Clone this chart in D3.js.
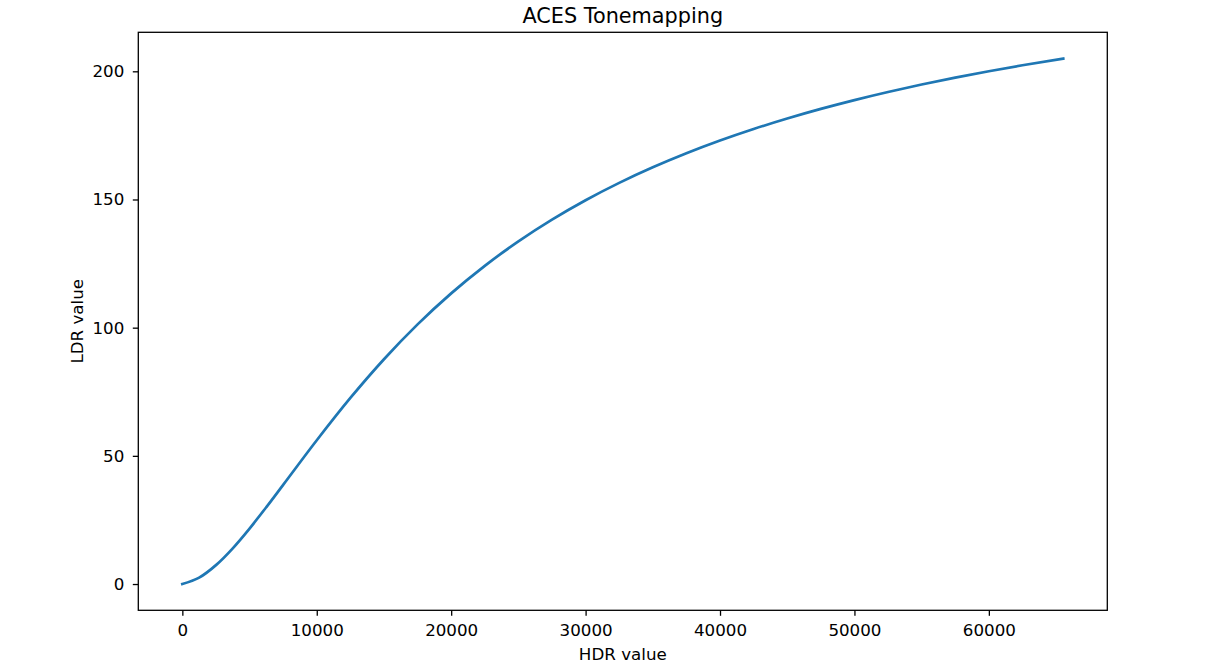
<!DOCTYPE html>
<html>
<head>
<meta charset="utf-8">
<script src="https://cdn.jsdelivr.net/npm/d3@7"></script>
<style>
  html, body { margin: 0; padding: 0; background: #fff; }
  svg { display: block; font-family: "DejaVu Sans", sans-serif; }
</style>
</head>
<body>
<svg id="chart" width="1220" height="669"></svg>
<script>
// Data
const hdrValues = [0, 1250, 2500, 3750, 5000, 6250, 7500, 10000, 12500, 15000, 17500, 20000, 22500, 25000,
  27500, 30000, 32500, 35000, 37500, 40000, 42500, 45000, 47500, 50000, 52500, 55000, 57500,
  60000, 62500, 65535];
const ldrValues = [0, 2.49, 7.37, 13.94, 21.64, 30.0, 38.68, 56.07, 72.58, 87.69, 101.28, 113.38, 124.12, 133.66,
  142.14, 149.71, 156.48, 162.55, 168.03, 172.99, 177.49, 181.58, 185.33, 188.77, 191.93, 194.84, 197.54,
  200.04, 202.36, 204.97];
const xTicks = [0, 10000, 20000, 30000, 40000, 50000, 60000];
const yTicks = [0, 50, 100, 150, 200];
const titleText = "ACES Tonemapping";
const xLabel = "HDR value";
const yLabel = "LDR value";

(function () {
  const svg = d3.select("#chart");
  const mLeft = 138.3, mRight = 1107.3, mTop = 32.3, mBottom = 610.3;

  const xmin = d3.min(hdrValues), xmax = d3.max(hdrValues);
  const ymin = d3.min(ldrValues), ymax = d3.max(ldrValues);
  const xpad = (xmax - xmin) * 0.05, ypad = (ymax - ymin) * 0.05;

  const x = d3.scaleLinear().domain([xmin - xpad, xmax + xpad]).range([mLeft, mRight]);
  const y = d3.scaleLinear().domain([ymin - ypad, ymax + ypad]).range([mBottom, mTop]);

  const data = hdrValues.map((h, i) => ({h, v: ldrValues[i]}));

  const line = d3.line().x(d => x(d.h)).y(d => y(d.v)).curve(d3.curveMonotoneX);

  svg.append("path")
    .datum(data)
    .attr("d", line)
    .attr("fill", "none")
    .attr("stroke", "#1f77b4")
    .attr("stroke-width", 2.7)
    .attr("stroke-linecap", "square");

  const xAxis = d3.axisBottom(x).tickValues(xTicks).tickFormat(d3.format("d")).tickSize(5.5).tickPadding(8.2);
  const yAxis = d3.axisLeft(y).tickValues(yTicks).tickFormat(d3.format("d")).tickSize(5.5).tickPadding(8.5);

  const gx = svg.append("g").attr("transform", `translate(0,${mBottom})`).call(xAxis);
  const gy = svg.append("g").attr("transform", `translate(${mLeft},0)`).call(yAxis);
  [gx, gy].forEach(g => {
    g.select(".domain").remove();
    g.selectAll(".tick line").attr("stroke", "#000").attr("stroke-width", 1.3);
    g.selectAll(".tick text").attr("fill", "#000").style("font-size", "16.7px").style("font-family", "DejaVu Sans");
  });

  svg.append("rect")
    .attr("x", mLeft).attr("y", mTop)
    .attr("width", mRight - mLeft).attr("height", mBottom - mTop)
    .attr("fill", "none").attr("stroke", "#000").attr("stroke-width", 1.3);

  svg.append("text")
    .attr("x", (mLeft + mRight) / 2).attr("y", 22.5)
    .attr("text-anchor", "middle")
    .style("font-size", "20.8px")
    .text(titleText);

  svg.append("text")
    .attr("x", (mLeft + mRight) / 2).attr("y", 660)
    .attr("text-anchor", "middle")
    .style("font-size", "16.7px")
    .text(xLabel);

  svg.append("text")
    .attr("transform", `translate(82.7,${(mTop + mBottom) / 2}) rotate(-90)`)
    .attr("text-anchor", "middle")
    .style("font-size", "16.7px")
    .text(yLabel);
})();
</script>
</body>
</html>
